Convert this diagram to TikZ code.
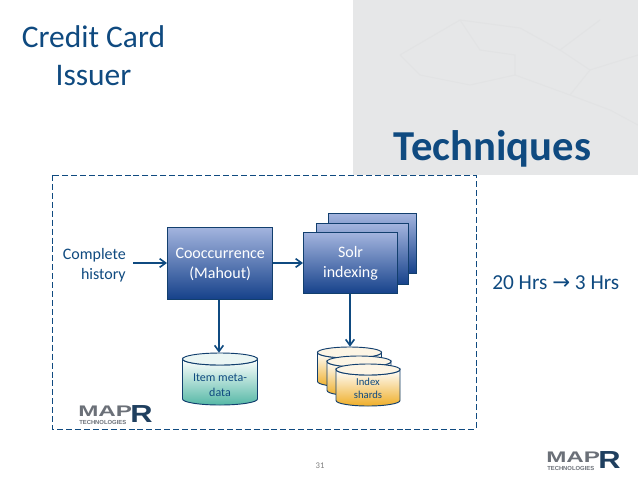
\documentclass[tikz,border=0pt]{standalone}
\usepackage{fontspec}
\setmainfont{Carlito}
\newfontfamily\logofont{Liberation Sans}
\newfontfamily\arrowfont{DejaVu Sans}
\usetikzlibrary{arrows.meta}
\definecolor{navy}{HTML}{0F4A80}
\definecolor{boxtop}{HTML}{A3B4DE}
\definecolor{boxbot}{HTML}{15418A}
\definecolor{boxline}{HTML}{123F6E}
\definecolor{panel}{HTML}{E6E7E8}
\definecolor{texture}{HTML}{E2E3E4}
\definecolor{logogray}{HTML}{6B7078}
\definecolor{logoblue}{HTML}{1F3F5F}
\definecolor{teal}{HTML}{55B8A6}
\definecolor{amber}{HTML}{EFAE28}
\tikzset{
  x=0.75pt,y=-0.75pt,
  procbox/.style={draw=boxline,line width=0.8pt,top color=boxtop,bottom color=boxbot,middle color=boxtop!50!boxbot,text=white,align=center,inner sep=0pt,anchor=north west,font=\fontsize{12}{15}\selectfont},
  backbox/.style={procbox},
  flow/.style={draw=navy,line width=1.2pt,-{Straight Barb[length=4.5pt,width=6.5pt,line width=1.2pt]}},
  label/.style={text=navy,align=right,font=\fontsize{12}{15}\selectfont},
  cyltext/.style={text=navy,align=center,inner sep=0pt},
  tex/.style={draw=texture,line width=0.8pt}
}
% name, cx, top, bottom, half width, ry, top colour, bottom colour
\newcommand{\mycyl}[8]{%
  \draw[draw=boxline,line width=0.7pt,top color=#7,bottom color=#8]
    (#2-#5,#3+#6) -- (#2-#5,#4-#6) arc[start angle=180,end angle=360,x radius=#5*0.75pt,y radius=#6*0.75pt] -- (#2+#5,#3+#6)
    arc[start angle=0,end angle=-180,x radius=#5*0.75pt,y radius=#6*0.75pt] -- cycle;
  \draw[draw=boxline,line width=0.7pt,fill=#8!12!white] (#2,#3+#6) ellipse[x radius=#5*0.75pt,y radius=#6*0.75pt];
  \node[minimum width=#5*1.5pt,minimum height={(#4-#3)*0.75pt},inner sep=0pt] (#1) at (#2,{(#3+#4)/2}) {};
}
\newcommand{\mylogo}[3]{% name, x, y (top-left)
  \node[anchor=north west,inner sep=0pt,text=logogray] (#1a) at (#2,#3) {\logofont\bfseries\fontsize{11.5}{11.5}\selectfont\scalebox{1.58}[1]{MAP}};
  \node[anchor=north west,inner sep=0pt,text=logoblue] (#1b) at (#2+52,#3-0.5) {\logofont\bfseries\fontsize{18.5}{18.5}\selectfont\scalebox{1.25}[1]{R}};
  \node[anchor=north west,inner sep=0pt,text=logogray] (#1c) at (#2+1,#3+14) {\logofont\bfseries\fontsize{4.4}{4.4}\selectfont TECHNOLOGIES};
}
\begin{document}
\begin{tikzpicture}
\useasboundingbox (0,0) rectangle (638,479);
\fill[white] (0,0) rectangle (638,479);
\fill[panel] (353,0) rectangle (638,175);
% faint background texture
\draw[tex] (400,55) -- (460,20) -- (520,28) -- (560,50) -- (600,20);
\draw[tex] (400,55) -- (420,75) -- (470,85) -- (515,75) -- (570,95) -- (610,110) -- (638,125);
\draw[tex] (460,20) -- (480,50) -- (515,55) -- (515,75);
\draw[tex] (560,50) -- (590,70) -- (570,95);
\draw[tex] (590,70) -- (638,55);
\node[anchor=center,text=navy,inner sep=0pt,font=\fontsize{32}{36}\selectfont\bfseries] (title) at (492.5,149) {Techniques};
\node[anchor=center,text=navy,align=center,inner sep=0pt,font=\fontsize{23.6}{28.5}\selectfont] (issuer) at (93.5,56) {Credit Card\\Issuer};
\draw[navy,line width=0.6pt,dash pattern=on 4.5pt off 2.2pt] (52,175) rectangle (476,429);
\node[label,anchor=east,inner sep=0pt] (hist) at (126,265) {Complete\\history};
\node[procbox,minimum width=79pt,minimum height=54pt,text depth=0pt] (cooc) at (167,227) {Cooccurrence\\(Mahout)};
\node[backbox,minimum width=66pt,minimum height=45pt] (s3) at (328,213) {};
\node[backbox,minimum width=69pt,minimum height=46pt] (s2) at (316,223) {};
\node[procbox,minimum width=70.5pt,minimum height=46pt] (s1) at (303,232) {Solr\\indexing};
\coordinate (histout) at (133,263);
\coordinate (coocw) at (cooc.west |- histout);
\coordinate (coocE) at (cooc.east |- histout);
\coordinate (solrW) at (s1.west |- histout);
\draw[flow] (histout) -- (coocw);
\draw[flow] (coocE) -- (solrW);
\mycyl{item}{220}{353}{405}{37.5}{6}{white}{teal}
\node[cyltext,font=\fontsize{9}{11.25}\selectfont,yshift=-4.5pt] (itemt) at (item.center) {Item meta-\\data};
\mycyl{shA}{349.5}{347}{387}{32}{5.5}{white}{amber}
\mycyl{shB}{359}{356}{396}{32}{5.5}{white}{amber}
\mycyl{shC}{368}{364}{406}{32}{5.5}{white}{amber}
\node[cyltext,font=\fontsize{8}{10}\selectfont,yshift=-2.5pt] (shct) at (shC.center) {Index\\shards};
\coordinate (xa) at (219,0);
\coordinate (xb) at (350,0);
\draw[flow] (cooc.south -| xa) -- (item.north -| xa);
\draw[flow] (s1.south -| xb) -- (shA.north -| xb);
\node[anchor=west,inner sep=0pt,text=navy,font=\fontsize{16}{19}\selectfont] (time) at (492,283) {20 Hrs {\arrowfont\fontsize{16}{16}\selectfont→} 3 Hrs};
\node[text=gray,inner sep=0pt,font=\fontsize{6.5}{8}\selectfont] (pg) at (320,466) {31};
\mylogo{la}{78}{406}
\mylogo{lb}{546}{452}
\end{tikzpicture}
\end{document}
